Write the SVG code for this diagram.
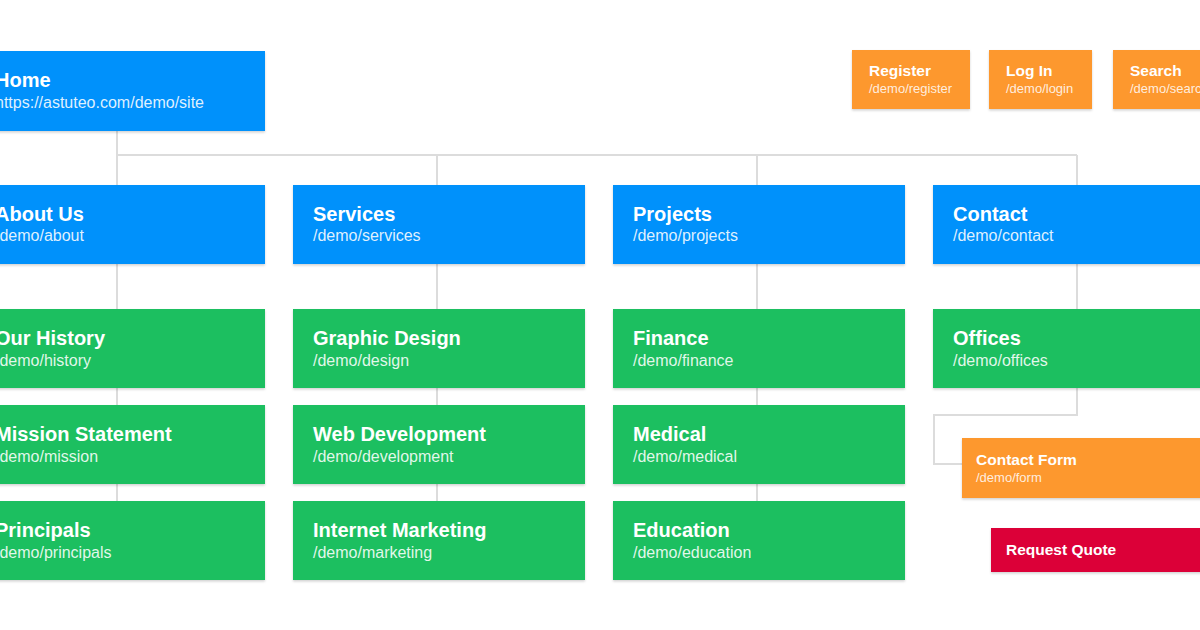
<svg xmlns="http://www.w3.org/2000/svg" width="1200" height="630" viewBox="0 0 1200 630">
<defs>
<filter id="sh" x="-5%" y="-10%" width="110%" height="130%">
<feDropShadow dx="0" dy="1.5" stdDeviation="1.2" flood-color="#000" flood-opacity="0.18"/>
</filter>
<style>
.blue{fill:#0091fb}
.green{fill:#1dbf60}
.orange{fill:#fd982f}
.red{fill:#dc0038}
.box{filter:url(#sh)}
.t{font-family:"Liberation Sans",Arial,sans-serif;font-weight:bold;font-size:20px;fill:#fff}
.s{font-family:"Liberation Sans",Arial,sans-serif;font-size:16px;fill:#fff;fill-opacity:0.88}
.ts{font-family:"Liberation Sans",Arial,sans-serif;font-weight:bold;font-size:15.5px;fill:#fff}
.ss{font-family:"Liberation Sans",Arial,sans-serif;font-size:13px;fill:#fff;fill-opacity:0.85}
.c{fill:none;stroke:#dcdcdc;stroke-width:2}
</style>
</defs>
<rect width="1200" height="630" fill="#fff"/>
<g id="connectors">
<path class="c" d="M117 131V155M117 155H1077M117 155V185M437 155V185M757 155V185M1077 155V185"/>
<path class="c" d="M117 264V309M437 264V309M757 264V309M1077 264V309"/>
<path class="c" d="M117 388V405M437 388V405M757 388V405M117 484V501M437 484V501M757 484V501"/>
<path class="c" d="M1077 388V415H934V464H962"/>
</g>
<g id="home"><rect class="box blue" x="-25" y="51" width="290" height="80"/><text class="t" x="-5" y="87">Home</text><text class="s" x="-5" y="108">https://astuteo.com/demo/site</text></g>
<g id="register"><rect class="box orange" x="852" y="50" width="118" height="59"/><text class="ts" x="869" y="76">Register</text><text class="ss" x="869" y="93">/demo/register</text></g>
<g id="login"><rect class="box orange" x="989" y="50" width="103" height="59"/><text class="ts" x="1006" y="76">Log In</text><text class="ss" x="1006" y="93">/demo/login</text></g>
<g id="search"><rect class="box orange" x="1113" y="50" width="120" height="59"/><text class="ts" x="1130" y="76">Search</text><text class="ss" x="1130" y="93">/demo/search</text></g>
<g id="about"><rect class="box blue" x="-25" y="185" width="290" height="79"/><text class="t" x="-5" y="221">About Us</text><text class="s" x="-5" y="241">/demo/about</text></g>
<g id="services"><rect class="box blue" x="293" y="185" width="292" height="79"/><text class="t" x="313" y="221">Services</text><text class="s" x="313" y="241">/demo/services</text></g>
<g id="projects"><rect class="box blue" x="613" y="185" width="292" height="79"/><text class="t" x="633" y="221">Projects</text><text class="s" x="633" y="241">/demo/projects</text></g>
<g id="contact"><rect class="box blue" x="933" y="185" width="292" height="79"/><text class="t" x="953" y="221">Contact</text><text class="s" x="953" y="241">/demo/contact</text></g>
<g id="history"><rect class="box green" x="-25" y="309" width="290" height="79"/><text class="t" x="-5" y="345">Our History</text><text class="s" x="-5" y="366">/demo/history</text></g>
<g id="mission"><rect class="box green" x="-25" y="405" width="290" height="79"/><text class="t" x="-5" y="441">Mission Statement</text><text class="s" x="-5" y="462">/demo/mission</text></g>
<g id="principals"><rect class="box green" x="-25" y="501" width="290" height="79"/><text class="t" x="-5" y="537">Principals</text><text class="s" x="-5" y="558">/demo/principals</text></g>
<g id="design"><rect class="box green" x="293" y="309" width="292" height="79"/><text class="t" x="313" y="345">Graphic Design</text><text class="s" x="313" y="366">/demo/design</text></g>
<g id="development"><rect class="box green" x="293" y="405" width="292" height="79"/><text class="t" x="313" y="441">Web Development</text><text class="s" x="313" y="462">/demo/development</text></g>
<g id="marketing"><rect class="box green" x="293" y="501" width="292" height="79"/><text class="t" x="313" y="537">Internet Marketing</text><text class="s" x="313" y="558">/demo/marketing</text></g>
<g id="finance"><rect class="box green" x="613" y="309" width="292" height="79"/><text class="t" x="633" y="345">Finance</text><text class="s" x="633" y="366">/demo/finance</text></g>
<g id="medical"><rect class="box green" x="613" y="405" width="292" height="79"/><text class="t" x="633" y="441">Medical</text><text class="s" x="633" y="462">/demo/medical</text></g>
<g id="education"><rect class="box green" x="613" y="501" width="292" height="79"/><text class="t" x="633" y="537">Education</text><text class="s" x="633" y="558">/demo/education</text></g>
<g id="offices"><rect class="box green" x="933" y="309" width="292" height="79"/><text class="t" x="953" y="345">Offices</text><text class="s" x="953" y="366">/demo/offices</text></g>
<g id="contactform"><rect class="box orange" x="962" y="438" width="260" height="60"/><text class="ts" x="976" y="465">Contact Form</text><text class="ss" x="976" y="482">/demo/form</text></g>
<g id="quote"><rect class="box red" x="991" y="528" width="230" height="44"/><text class="ts" x="1006" y="555">Request Quote</text></g>
</svg>
